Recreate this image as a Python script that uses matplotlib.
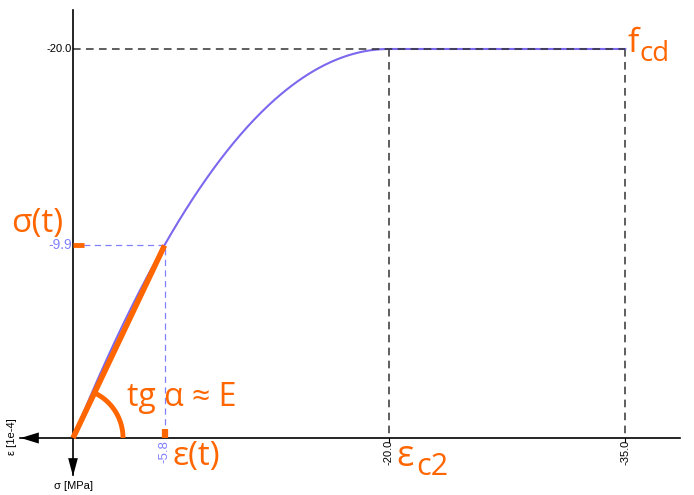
import numpy as np
import matplotlib.pyplot as plt

# concrete parabola-rectangle diagram (strain in 1e-4, stress in MPa)
fcd = -20.0
eps_c2 = -20.0
eps_cu2 = -35.0
eps_t = -5.8
sig_t = -9.9
n_exp = 2.0

x_ticks = [eps_t, eps_c2, eps_cu2]
x_tick_labels = ['-5.8', '-20.0', '-35.0']
y_ticks = [sig_t, fcd]
y_tick_labels = ['-9.9', '-20.0']

ORANGE = '#ff6600'
PURPLE = '#7b68ee'
LIGHT = '#8080ff'
DARK = '#333333'

plt.rcParams['font.family'] = ['Liberation Sans', 'DejaVu Sans']

fig = plt.figure(figsize=(6.94, 4.95), dpi=100)
ax = fig.add_axes([0, 0, 1, 1])
ax.set_axis_off()

# pixel scale of the reference
sx, sy = 15.78, 19.45
ox, oy = 73, 438
ax.set_xlim(ox / sx, -(694 - ox) / sx)
ax.set_ylim((495 - oy) / sy, -oy / sy)

# curve
eps = np.linspace(0, eps_cu2, 400)
sig = np.where(eps > eps_c2, fcd * (1 - (1 - eps / eps_c2) ** n_exp), fcd)
ax.plot(eps, sig, color=PURPLE, lw=1.5, zorder=3)

# reference dashed lines
ax.plot([0, eps_cu2], [fcd, fcd], color=DARK, lw=1.1, ls=(0, (5, 3.5)), zorder=4)
ax.plot([eps_c2, eps_c2], [fcd, 0], color=DARK, lw=1.1, ls=(0, (5, 3.5)), zorder=2)
ax.plot([eps_cu2, eps_cu2], [fcd, 0], color=DARK, lw=1.1, ls=(0, (5, 3.5)), zorder=2)
ax.plot([0, eps_t, eps_t], [sig_t, sig_t, 0], color=LIGHT, lw=0.9,
        ls=(0, (5, 3.5)), zorder=2)

# axes with arrows
x_left, x_right = (ox - 20) / sx, -(680 - ox) / sx
y_top, y_bot = -(oy - 10) / sy, (475 - oy) / sy
ax.plot([x_left, x_right], [0, 0], color='black', lw=1.2, zorder=5)
ax.plot([0, 0], [y_top, y_bot], color='black', lw=1.2, zorder=5)
ax.annotate('', xy=(x_left + 2 / sx, 0), xytext=(x_left - 20 / sx, 0),
            arrowprops=dict(arrowstyle='-|>,head_length=1.3,head_width=0.4',
                            color='black', lw=0), zorder=6)
ax.annotate('', xy=(0, y_bot + 4 / sy), xytext=(0, y_bot - 20 / sy),
            arrowprops=dict(arrowstyle='-|>,head_length=1.3,head_width=0.35',
                            color='black', lw=0), zorder=6)
ax.text((ox - 12) / sx, -(oy - 437) / sy, 'ε [1e-4]', rotation=90, fontsize=8,
        ha='center', va='center')
ax.text(0, (486 - oy) / sy, 'σ [MPa]', fontsize=8, ha='center', va='center')

# tick labels
for xt, lab in zip(x_ticks, x_tick_labels):
    c = LIGHT if xt == eps_t else 'black'
    fs = 9.5 if xt == eps_t else 8
    ax.text(xt, 2 / sy, lab, rotation=90, ha='center', va='top', fontsize=fs,
            color=c)
    if xt != eps_t:
        ax.plot([xt, xt], [0, 4 / sy], color='black', lw=0.8, zorder=5)
for yt, lab in zip(y_ticks, y_tick_labels):
    c = LIGHT if yt == sig_t else 'black'
    fs = 10 if yt == sig_t else 8
    ax.text(1 / sx, yt, lab, ha='right', va='center', fontsize=fs, color=c)

# orange marks
ax.plot([0, -11 / sx], [sig_t, sig_t], color=ORANGE, lw=3.5,
        solid_capstyle='butt', zorder=6)
ax.plot([eps_t, eps_t], [0, -9 / sy], color=ORANGE, lw=4.5,
        solid_capstyle='butt', zorder=6)
ax.plot([0, eps_t], [0, sig_t], color=ORANGE, lw=4, solid_capstyle='butt',
        zorder=6)

# angle arc (radius in pixels)
ang = np.arctan2(-sig_t * sy, -eps_t * sx)
r = 50
th = np.linspace(0, ang, 60)
ax.plot(-r * np.cos(th) / sx, -r * np.sin(th) / sy, color=ORANGE, lw=3.5,
        solid_capstyle='butt', zorder=6)

# labels
of = ['Open Sans', 'DejaVu Sans']
ax.text(-(11 - ox) / sx, -(oy - 224) / sy, 'σ(t)', color=ORANGE, fontsize=24,
        family=of, ha='left', va='center')
ax.text(-(127 - ox) / sx, -(oy - 397) / sy, 'tg α ≈ E', color=ORANGE,
        fontsize=23, family=of, ha='left', va='center')
ax.text(-(172 - ox) / sx, -(oy - 457) / sy, 'ε(t)', color=ORANGE, fontsize=24,
        family=of, ha='left', va='center')
ax.text(-(396 - ox) / sx, -(oy - 457) / sy, 'ε', color=ORANGE, fontsize=26,
        family=of, ha='left', va='center')
ax.text(-(416 - ox) / sx, -(oy - 467) / sy, 'c2', color=ORANGE, fontsize=22,
        family=of, ha='left', va='center')
ax.text(-(627 - ox) / sx, -(oy - 44) / sy, 'f', color=ORANGE, fontsize=24,
        family=of, ha='left', va='center')
ax.text(-(640 - ox) / sx, -(oy - 54) / sy, 'cd', color=ORANGE, fontsize=20,
        family=of, ha='left', va='center')

fig.savefig('out.png', dpi=100)
